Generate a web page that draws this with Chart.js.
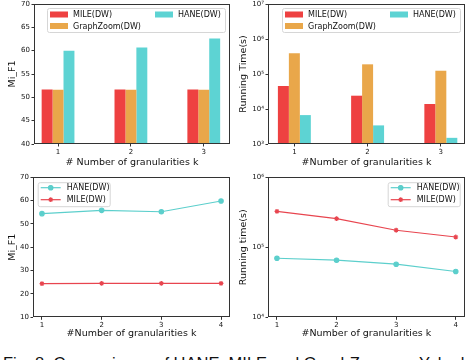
<!DOCTYPE html>
<html>
<head>
<meta charset="utf-8">
<script src="https://cdn.jsdelivr.net/npm/chart.js@4.4.0/dist/chart.umd.min.js"></script>
<style>
  html, body { margin: 0; padding: 0; background: #fff; }
  body { width: 474px; height: 360px; position: relative; overflow: hidden; }
  .panel { position: absolute; }
  .caption {
    position: absolute; left: 3px; top: 355px;
    font: 16.5px/16px "Liberation Sans", Arial, sans-serif;
    white-space: nowrap; color: #111;
  }
</style>
</head>
<body>
<div class="panel" style="left:0;top:0"><canvas id="f1Bars"></canvas></div>
<div class="panel" style="left:237px;top:0"><canvas id="timeBars"></canvas></div>
<div class="panel" style="left:0;top:172px"><canvas id="f1Lines"></canvas></div>
<div class="panel" style="left:237px;top:172px"><canvas id="timeLines"></canvas></div>
<div class="caption">Fig. 8: Comparisons of HANE, MILE and GraphZoom on Yelp dataset</div>
<script>
// --- data ---
const barGranularities = [1, 2, 3];
const lineGranularities = [1, 2, 3, 4];

const f1Mile = [51.7, 51.7, 51.7];
const f1GraphZoom = [51.6, 51.6, 51.6];
const f1Hane = [60.0, 60.7, 62.6];

const timeMile = [45400, 24000, 13900];
const timeGraphZoom = [390000, 189000, 124000];
const timeHane = [6700, 3400, 1500];

const lineF1Hane = [54.4, 55.8, 55.2, 59.8];
const lineF1Mile = [24.4, 24.5, 24.5, 24.5];

const lineTimeHane = [69700, 65300, 57300, 45100];
const lineTimeMile = [325000, 256000, 175000, 140000];

const f1BarTicks = [40, 45, 50, 55, 60, 65, 70];
const timeBarTicks = [1e3, 1e4, 1e5, 1e6, 1e7];
const f1LineTicks = [10, 20, 30, 40, 50, 60, 70];
const timeLineTicks = [1e4, 1e5, 1e6];

const RED = '#ee4141';
const ORANGE = '#e9a74a';
const CYAN = '#5dd3d3';
const LINE_RED = '#e8454f';
const LINE_CYAN = '#5ccfcc';

Chart.defaults.font.family = '"DejaVu Sans", sans-serif';
Chart.defaults.color = '#111';

const SUP = { '0': '\u2070', '1': '\u00b9', '2': '\u00b2', '3': '\u00b3', '4': '\u2074',
              '5': '\u2075', '6': '\u2076', '7': '\u2077', '8': '\u2078', '9': '\u2079' };
const pow10 = v => '10' + String(Math.round(Math.log10(v))).split('').map(d => SUP[d]).join('');

const pts = (xs, ys) => xs.map((x, i) => ({ x, y: ys[i] }));

// frame around the plot area + matplotlib-ish legend box inside it
const boxLegend = {
  id: 'boxLegend',
  afterDraw(chart, args, opts) {
    const { ctx, chartArea: a } = chart;
    ctx.save();
    ctx.strokeStyle = '#333';
    ctx.lineWidth = 1;
    ctx.strokeRect(Math.round(a.left) + 0.5, Math.round(a.top) + 0.5,
                   Math.round(a.right - a.left) - 1, Math.round(a.bottom - a.top) - 1);

    const bx = opts.fromRight ? a.right - opts.offX - opts.w : a.left + opts.offX;
    const by = a.top + opts.offY;
    ctx.beginPath();
    ctx.roundRect(bx + 0.5, by + 0.5, opts.w, opts.h, 2);
    ctx.fillStyle = 'rgba(255,255,255,0.85)';
    ctx.fill();
    ctx.strokeStyle = '#d6d6d6';
    ctx.stroke();

    ctx.font = '8px "DejaVu Sans"';
    ctx.textBaseline = 'middle';
    ctx.fillStyle = '#111';
    chart.data.datasets.forEach((ds, i) => {
      const [dx, dy] = opts.slots[i];
      const x = bx + dx, y = by + dy;
      if (opts.kind === 'bar') {
        ctx.fillStyle = ds.backgroundColor;
        ctx.fillRect(x, y - 3, 18, 6);
      } else {
        ctx.strokeStyle = ds.borderColor;
        ctx.lineWidth = 1.2;
        ctx.beginPath();
        ctx.moveTo(x, y);
        ctx.lineTo(x + 20, y);
        ctx.stroke();
        Chart.helpers.drawPoint(ctx, {
          pointStyle: ds.pointStyle, radius: ds.pointRadius, borderWidth: 1.2, rotation: 0
        }, x + 10, y);
        ctx.fillStyle = ds.borderColor;
        if (ds.pointStyle === 'circle') {
          ctx.beginPath(); ctx.arc(x + 10, y, ds.pointRadius, 0, Math.PI * 2); ctx.fill();
        }
      }
      ctx.fillStyle = '#111';
      ctx.fillText(ds.label, x + opts.textDx, y + 0.5);
    });
    ctx.restore();
  }
};

function makeChart(id, w, h, area, spec) {
  const canvas = document.getElementById(id);
  canvas.width = w;
  canvas.height = h;
  const yLog = spec.yType === 'logarithmic';
  return new Chart(canvas, {
    type: spec.type,
    data: { datasets: spec.datasets },
    options: {
      responsive: false,
      animation: false,
      layout: { padding: { left: 0, top: area.top, right: w - area.right, bottom: 0 } },
      plugins: {
        legend: { display: false },
        tooltip: { enabled: false },
        boxLegend: spec.legend
      },
      scales: {
        x: {
          type: 'linear',
          min: spec.xMin,
          max: spec.xMax,
          offset: false,
          afterBuildTicks: s => { s.ticks = spec.xTicks.map(v => ({ value: v })); },
          afterFit: s => { s.height = h - area.bottom; s.paddingLeft = 0; s.paddingRight = 0; },
          grid: { drawOnChartArea: false, drawTicks: true, tickLength: 2.5, color: '#333', offset: false },
          border: { display: false },
          ticks: { padding: 1.5, font: { size: 7 }, color: '#111', maxRotation: 0, autoSkip: false,
                   callback: v => String(v) },
          title: { display: true, text: spec.xTitle, font: { size: 9.5 }, color: '#111',
                   padding: { top: 0, bottom: spec.xTitlePad } }
        },
        y: {
          type: spec.yType,
          min: spec.yMin,
          max: spec.yMax,
          afterBuildTicks: s => { s.ticks = spec.yTicks.map(v => ({ value: v })); },
          afterFit: s => { s.width = area.left; s.paddingTop = 0; s.paddingBottom = 0; },
          grid: { drawOnChartArea: false, drawTicks: true, tickLength: 2.5, color: '#333' },
          border: { display: false },
          ticks: { padding: 1.5, font: { size: 7 }, color: '#111', autoSkip: false,
                   callback: v => yLog ? pow10(v) : String(v) },
          title: { display: true, text: spec.yTitle, font: { size: 9.5 }, color: '#111',
                   padding: { top: spec.yTitlePad, bottom: 0 } }
        }
      }
    },
    plugins: [boxLegend]
  });
}

const barStyle = { borderWidth: 0, categoryPercentage: 0.45, barPercentage: 1.0 };
const barLegend = { kind: 'bar', offX: 13, offY: 4, w: 178, h: 24, textDx: 23,
                    slots: [[3, 6.5], [3, 18], [108, 6.5]] };

makeChart('f1Bars', 237, 172, { left: 34, top: 4, right: 230, bottom: 144 }, {
  type: 'bar',
  datasets: [
    { label: 'MILE(DW)', data: pts(barGranularities, f1Mile), backgroundColor: RED, ...barStyle },
    { label: 'GraphZoom(DW)', data: pts(barGranularities, f1GraphZoom), backgroundColor: ORANGE, ...barStyle },
    { label: 'HANE(DW)', data: pts(barGranularities, f1Hane), backgroundColor: CYAN, ...barStyle }
  ],
  xMin: 0.67, xMax: 3.36, xTicks: barGranularities,
  yType: 'linear', yMin: 40, yMax: 70, yTicks: f1BarTicks,
  xTitle: '# Number of granularities k', xTitlePad: 3.6,
  yTitle: 'Mi_F1', yTitlePad: 6.5,
  legend: barLegend
});

makeChart('timeBars', 237, 172, { left: 31, top: 4, right: 228, bottom: 144 }, {
  type: 'bar',
  datasets: [
    { label: 'MILE(DW)', data: pts(barGranularities, timeMile), backgroundColor: RED, ...barStyle },
    { label: 'GraphZoom(DW)', data: pts(barGranularities, timeGraphZoom), backgroundColor: ORANGE, ...barStyle },
    { label: 'HANE(DW)', data: pts(barGranularities, timeHane), backgroundColor: CYAN, ...barStyle }
  ],
  xMin: 0.64, xMax: 3.33, xTicks: barGranularities,
  yType: 'logarithmic', yMin: 1e3, yMax: 1e7, yTicks: timeBarTicks,
  xTitle: '#Number of granularities k', xTitlePad: 3.6,
  yTitle: 'Running Time(s)', yTitlePad: 1.3,
  legend: { ...barLegend, offX: 14 }
});

const lineStyle = { borderWidth: 1.2, fill: false, tension: 0, pointBorderWidth: 1.2 };
const lineLegendBase = { kind: 'line', offY: 5, w: 72, h: 24, textDx: 26, slots: [[3, 5.5], [3, 17.5]] };

makeChart('f1Lines', 237, 168, { left: 33, top: 4.7, right: 230, bottom: 145.3 }, {
  type: 'line',
  datasets: [
    { label: 'HANE(DW)', data: pts(lineGranularities, lineF1Hane), borderColor: LINE_CYAN,
      backgroundColor: LINE_CYAN, pointStyle: 'circle', pointRadius: 2.2, ...lineStyle },
    { label: 'MILE(DW)', data: pts(lineGranularities, lineF1Mile), borderColor: LINE_RED,
      backgroundColor: LINE_RED, pointStyle: 'star', pointRadius: 2.4, ...lineStyle }
  ],
  xMin: 0.85, xMax: 4.15, xTicks: lineGranularities,
  yType: 'linear', yMin: 10, yMax: 70, yTicks: f1LineTicks,
  xTitle: '#Number of granularities k', xTitlePad: 0.5,
  yTitle: 'Mi_F1', yTitlePad: 6.5,
  legend: { ...lineLegendBase, offX: 4.7 }
});

makeChart('timeLines', 237, 168, { left: 31, top: 4.7, right: 227.7, bottom: 145.3 }, {
  type: 'line',
  datasets: [
    { label: 'HANE(DW)', data: pts(lineGranularities, lineTimeHane), borderColor: LINE_CYAN,
      backgroundColor: LINE_CYAN, pointStyle: 'circle', pointRadius: 2.2, ...lineStyle },
    { label: 'MILE(DW)', data: pts(lineGranularities, lineTimeMile), borderColor: LINE_RED,
      backgroundColor: LINE_RED, pointStyle: 'star', pointRadius: 2.4, ...lineStyle }
  ],
  xMin: 0.85, xMax: 4.15, xTicks: lineGranularities,
  yType: 'logarithmic', yMin: 1e4, yMax: 1e6, yTicks: timeLineTicks,
  xTitle: '#Number of granularities k', xTitlePad: 1,
  yTitle: 'Running time(s)', yTitlePad: 1.3,
  legend: { ...lineLegendBase, fromRight: true, offX: 5 }
});
</script>
</body>
</html>
